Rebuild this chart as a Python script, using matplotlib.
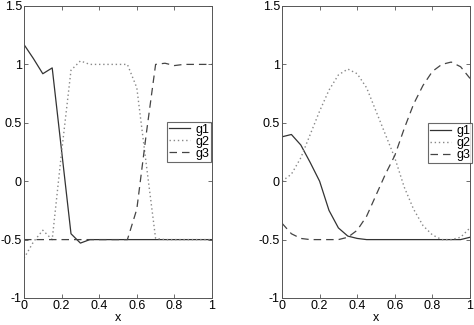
import numpy as np
import matplotlib
matplotlib.use("Agg")
import matplotlib.pyplot as plt

plt.rcParams['font.family'] = ['Liberation Sans', 'DejaVu Sans']

x = np.linspace(0, 1, 21)

# left panel
g1_a = [1.17, 1.05, 0.92, 0.97, 0.26, -0.45, -0.53, -0.50, -0.50, -0.50, -0.50,
        -0.50, -0.50, -0.50, -0.50, -0.50, -0.50, -0.50, -0.50, -0.50, -0.50]
g2_a = [-0.66, -0.52, -0.42, -0.50, 0.25, 0.95, 1.03, 1.00, 1.00, 1.00, 1.00,
        1.00, 0.80, 0.15, -0.49, -0.50, -0.50, -0.50, -0.50, -0.50, -0.50]
g3_a = [-0.50, -0.50, -0.50, -0.50, -0.50, -0.50, -0.50, -0.50, -0.50, -0.50, -0.50,
        -0.50, -0.24, 0.40, 1.00, 1.01, 0.99, 1.00, 1.00, 1.00, 1.00]

# right panel
g1_b = [0.38, 0.40, 0.31, 0.16, 0.00, -0.25, -0.40, -0.47, -0.49, -0.50, -0.50,
        -0.50, -0.50, -0.50, -0.50, -0.50, -0.50, -0.50, -0.50, -0.50, -0.48]
g2_b = [0.00, 0.06, 0.20, 0.40, 0.60, 0.78, 0.91, 0.96, 0.92, 0.80, 0.60,
        0.40, 0.20, -0.05, -0.24, -0.38, -0.46, -0.50, -0.50, -0.48, -0.40]
g3_b = [-0.36, -0.45, -0.49, -0.50, -0.50, -0.50, -0.50, -0.48, -0.42, -0.30, -0.12,
        0.06, 0.22, 0.45, 0.66, 0.82, 0.94, 1.00, 1.02, 0.98, 0.88]

xticks = [0, 0.2, 0.4, 0.6, 0.8, 1]
xticklabels = ['0', '0.2', '0.4', '0.6', '0.8', '1']
yticks = [-1, -0.5, 0, 0.5, 1, 1.5]
yticklabels = ['-1', '-0.5', '0', '0.5', '1', '1.5']

fig = plt.figure(figsize=(4.74, 3.25), dpi=100)
W, H = 474, 325
ax1 = fig.add_axes([24 / W, 1 - 298 / H, 188 / W, 292 / H])
ax2 = fig.add_axes([282 / W, 1 - 298 / H, 188 / W, 292 / H])

for ax, (a, b, c), anchor in [(ax1, (g1_a, g2_a, g3_a), (0.995, 0.535)),
                              (ax2, (g1_b, g2_b, g3_b), (1.01, 0.53))]:
    ax.plot(x, a, color='#333333', linestyle='-', linewidth=0.9, label='g1')
    ax.plot(x, b, color='#888888', linestyle=(0, (1, 2)), linewidth=1.0, label='g2')
    ax.plot(x, c, color='#444444', linestyle=(0, (6, 4)), linewidth=0.9, label='g3')
    ax.set_xlim(0, 1)
    ax.set_ylim(-1, 1.5)
    ax.set_xticks(xticks)
    ax.set_xticklabels(xticklabels)
    ax.set_yticks(yticks)
    ax.set_yticklabels(yticklabels)
    ax.tick_params(direction='in', top=True, right=True, length=3, width=0.6,
                   labelsize=9, pad=1.5, color='#555555')
    for s in ax.spines.values():
        s.set_linewidth(0.7)
        s.set_color('#555555')
    ax.set_xlabel('x', fontsize=9, labelpad=0)
    leg = ax.legend(loc='center right', bbox_to_anchor=anchor, fontsize=9,
                    frameon=True, fancybox=False, handlelength=1.7, borderpad=0.15,
                    labelspacing=0.0, handletextpad=0.4, borderaxespad=0.0)
    leg.get_frame().set_edgecolor('#444444')
    leg.get_frame().set_linewidth(0.8)

fig.savefig('out.png', dpi=100)
